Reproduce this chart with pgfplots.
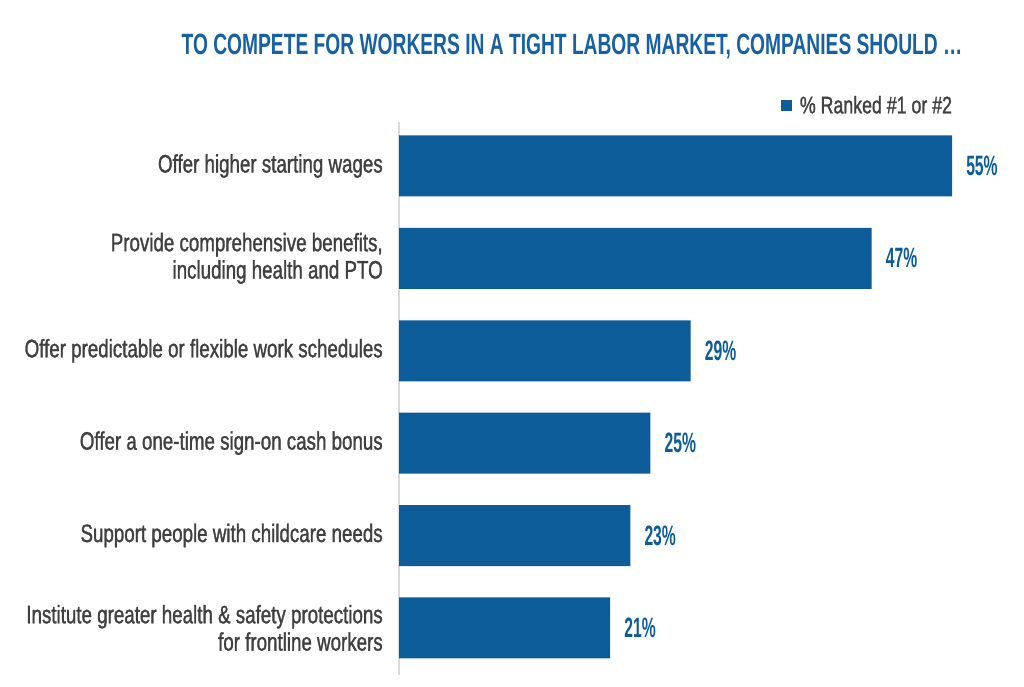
\documentclass[border=0pt]{standalone}
\usepackage{pgfplots}
\pgfplotsset{compat=1.18}
\usepackage{fontspec}
\setmainfont{Liberation Sans}
\newfontfamily\titlefont{Liberation Sans Bold}[FakeStretch=0.655]
\newfontfamily\labelfont{Liberation Sans}[FakeStretch=0.74,FakeBold=1.2]
\newfontfamily\valuefont{Liberation Sans Bold}[FakeStretch=0.56]
\definecolor{barblue}{HTML}{0D5C9A}
\definecolor{titleblue}{HTML}{1660A3}
\definecolor{labelgray}{HTML}{404040}
\definecolor{axisgray}{HTML}{D9D9D9}

\begin{document}
\begin{tikzpicture}
% page frame: 1024x686 px at 0.75pt per px, origin top left
\path[use as bounding box] (0pt,0pt) rectangle (768pt,-514.5pt);

\node[anchor=base, inner sep=0pt, text=titleblue]
  at (429pt,-41pt) {\titlefont\fontsize{22}{26}\selectfont TO COMPETE FOR WORKERS IN A TIGHT LABOR MARKET, COMPANIES SHOULD \dots};

\begin{axis}[
  at={(299.25pt,-506.25pt)}, anchor=south west,
  scale only axis,
  width=414.75pt, height=414.75pt,
  xbar, bar width=45.75pt,
  xmin=0, xmax=55,
  ymin=-0.476, ymax=5.51,
  y dir=reverse,
  axis x line=none,
  axis y line=left,
  y axis line style={-, draw=axisgray, line width=0.9pt},
  ytick={0,1,2,3,4,5},
  yticklabels={
    {Offer higher starting wages},
    {Provide comprehensive benefits,\\including health and PTO},
    {Offer predictable or flexible work schedules},
    {Offer a one-time sign-on cash bonus},
    {Support people with childcare needs},
    {Institute greater health \& safety protections\\for frontline workers}},
  major tick length=0pt,
  ytick style={draw=none},
  yticklabel style={align=right, inner sep=0pt, xshift=-12pt,
    text=labelgray, font=\labelfont\fontsize{19}{20.5}\selectfont},
  nodes near coords={\pgfmathprintnumber{\pgfplotspointmeta}\%},
  nodes near coords style={anchor=west, inner sep=0pt, xshift=10.5pt,
    text=barblue, font=\valuefont\fontsize{21}{24}\selectfont,
    /pgf/number format/assume math mode=true},
  point meta=explicit,
  legend style={at={(1,1)}, anchor=south east, yshift=5pt,
    draw=none, fill=none, inner sep=0pt, outer sep=0pt,
    font=\labelfont\fontsize{18}{20}\selectfont, text=labelgray,
    nodes={inner sep=0pt}},
  legend cell align=left,
  legend image code/.code={\fill[barblue] (0pt,-4.1pt) rectangle (8.25pt,4.1pt);},
  clip=false,
]
\addplot[fill=barblue, draw=none] coordinates {
  (55,0) [55]
  (47,1) [47]
  (29,2) [29]
  (25,3) [25]
  (23,4) [23]
  (21,5) [21]
};
\addlegendentry{\hspace{6pt}\% Ranked \#1 or \#2}
\end{axis}
\end{tikzpicture}
\end{document}
